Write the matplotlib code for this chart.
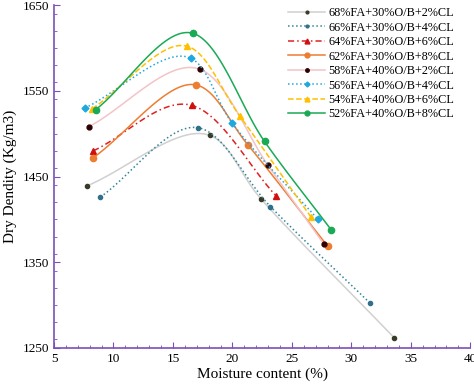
import numpy as np
import matplotlib
matplotlib.use("Agg")
import matplotlib.pyplot as plt
from matplotlib.ticker import MultipleLocator

plt.rcParams['font.family'] = ['Liberation Serif', 'DejaVu Serif']

labels = ["68%FA+30%O/B+2%CL", "66%FA+30%O/B+4%CL", "64%FA+30%O/B+6%CL",
          "62%FA+30%O/B+8%CL", "58%FA+40%O/B+2%CL", "56%FA+40%O/B+4%CL",
          "54%FA+40%O/B+6%CL", "52%FA+40%O/B+8%CL"]

mc_68 = [7.75, 18.1, 22.4, 33.6]
dd_68 = [1439, 1498, 1424, 1262]
mc_66 = [8.9, 17.1, 23.2, 31.6]
dd_66 = [1426, 1507, 1415, 1302]
mc_64 = [8.3, 16.6, 23.7]
dd_64 = [1480, 1533, 1427]
mc_62 = [8.3, 16.9, 21.3, 28.0]
dd_62 = [1472, 1557, 1487, 1369]
mc_58 = [7.9, 17.3, 23.0, 27.7]
dd_58 = [1508, 1575, 1463, 1371]
mc_56 = [7.6, 16.5, 20.0, 27.2]
dd_56 = [1530, 1588, 1512, 1400]
mc_54 = [8.2, 16.2, 20.6, 26.6]
dd_54 = [1529, 1602, 1521, 1403]
mc_52 = [8.5, 16.7, 22.7, 28.3]
dd_52 = [1528, 1617, 1491, 1388]

xs = [mc_68, mc_66, mc_64, mc_62, mc_58, mc_56, mc_54, mc_52]
ys = [dd_68, dd_66, dd_64, dd_62, dd_58, dd_56, dd_54, dd_52]

line_colors = ["#d0d0d0", "#31859c", "#e02020", "#ed7d31", "#f2c4c8", "#1fa8e0", "#ffc000", "#1aaa55"]
mark_colors = ["#3a3a28", "#31708a", "#d01010", "#ed7d31", "#300000", "#1fa8e0", "#ffc000", "#1aaa55"]
styles = ["-", ":", (0, (4, 2, 1, 2)), "-", "-", ":", "--", "-"]
markers = ["o", "o", "^", "o", "o", "D", "^", "o"]
msizes = [3, 3, 4.5, 4.5, 3.5, 3.5, 4.5, 4.5]


def smooth(x, y, n=40):
    # centripetal catmull-rom through the points
    p = np.column_stack([x, np.array(y) * 0.03])
    p = np.vstack([2 * p[0] - p[1], p, 2 * p[-1] - p[-2]])
    out = []
    for i in range(1, len(p) - 2):
        p0, p1, p2, p3 = p[i - 1], p[i], p[i + 1], p[i + 2]
        t0 = 0
        t1 = t0 + np.linalg.norm(p1 - p0) ** 0.5
        t2 = t1 + np.linalg.norm(p2 - p1) ** 0.5
        t3 = t2 + np.linalg.norm(p3 - p2) ** 0.5
        t = np.linspace(t1, t2, n)[:, None]
        a1 = (t1 - t) / (t1 - t0) * p0 + (t - t0) / (t1 - t0) * p1
        a2 = (t2 - t) / (t2 - t1) * p1 + (t - t1) / (t2 - t1) * p2
        a3 = (t3 - t) / (t3 - t2) * p2 + (t - t2) / (t3 - t2) * p3
        b1 = (t2 - t) / (t2 - t0) * a1 + (t - t0) / (t2 - t0) * a2
        b2 = (t3 - t) / (t3 - t1) * a2 + (t - t1) / (t3 - t1) * a3
        c = (t2 - t) / (t2 - t1) * b1 + (t - t1) / (t2 - t1) * b2
        out.append(c)
    out = np.vstack(out)
    return out[:, 0], out[:, 1] / 0.03


fig = plt.figure(figsize=(4.74, 3.87), dpi=100)
ax = fig.add_axes([0.114, 0.1008, 0.878, 0.886])

for i in range(8):
    sx, sy = smooth(xs[i], ys[i])
    ax.plot(sx, sy, color=line_colors[i], linestyle=styles[i], linewidth=1.1)
    ax.plot(xs[i], ys[i], linestyle="none", marker=markers[i], color=mark_colors[i],
            markersize=msizes[i])
    # legend proxy
    ax.plot([], [], color=line_colors[i], linestyle=styles[i], linewidth=1.1,
            marker=markers[i], markerfacecolor=mark_colors[i],
            markeredgecolor=mark_colors[i], markersize=msizes[i] - 1, label=labels[i])

ax.set_xlim(5, 40)
ax.set_ylim(1250, 1650)
ax.xaxis.set_major_locator(MultipleLocator(5))
ax.xaxis.set_minor_locator(MultipleLocator(1))
ax.set_yticks([1250, 1350, 1450, 1550, 1650])
ax.yaxis.set_minor_locator(MultipleLocator(20))

axc = "#7b4fb8"
for s in ["top", "right"]:
    ax.spines[s].set_visible(False)
for s in ["left", "bottom"]:
    ax.spines[s].set_color(axc)
    ax.spines[s].set_linewidth(1.2)
ax.tick_params(which="both", direction="in", color=axc, labelsize=9.5)
ax.tick_params(which="major", length=4)
ax.tick_params(which="minor", length=2)

ax.set_xlabel("Moisture content (%)", fontsize=11, labelpad=2)
ax.set_ylabel("Dry Dendity (Kg/m3)", fontsize=11, labelpad=4)

leg = ax.legend(loc="upper right", bbox_to_anchor=(0.98, 1.015), frameon=False,
                fontsize=8.8, handlelength=3.0, labelspacing=0.2, handletextpad=0.3,
                borderaxespad=0.2)

fig.savefig("out.png", dpi=100)
